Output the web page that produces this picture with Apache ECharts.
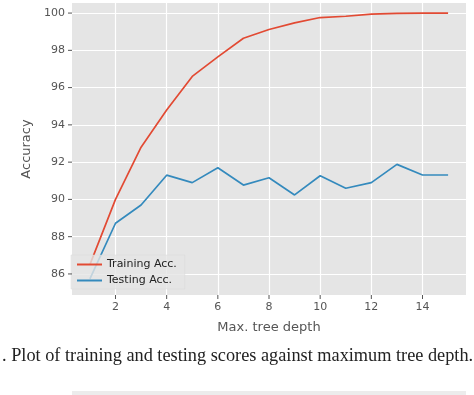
<!DOCTYPE html>
<html><head><meta charset="utf-8">
<script src="https://cdn.jsdelivr.net/npm/echarts@6/dist/echarts.min.js"></script>
<style>html,body{margin:0;padding:0;background:#fff}#c{width:474px;height:395px}</style>
</head><body><div id="c"></div>
<script>
const depths = [1,2,3,4,5,6,7,8,9,10,11,12,13,14,15];
const trainingAcc = [86.5,90.0,92.8,94.8,96.6,97.65,98.65,99.12,99.47,99.76,99.83,99.94,99.98,100.0,100.0];
const testingAcc = [85.73,88.72,89.7,91.3,90.9,91.7,90.77,91.16,90.24,91.27,90.6,90.9,91.88,91.31,91.31];
const xTicks = [2,4,6,8,10,12,14];
const yTicks = [86,88,90,92,94,96,98,100];
const seriesNames = ['Training Acc.','Testing Acc.'];
const caption = '. Plot of training and testing scores against maximum tree depth.';
const xMin = 0.3, xMax = 15.7, yMin = 84.87, yMax = 100.54;

const chart = echarts.init(document.getElementById('c'));
function tickSeries(data, horizontal) {
  return {
    type:'custom', coordinateSystem:'cartesian2d', silent:true, clip:false, z:5,
    data:data,
    renderItem:function(params, api){
      const p = api.coord([api.value(0), api.value(1)]);
      const shape = horizontal ? {x1:p[0]-4, y1:p[1], x2:p[0], y2:p[1]} : {x1:p[0], y1:p[1], x2:p[0], y2:p[1]+4};
      return {type:'line', shape:shape, style:{stroke:'#555', lineWidth:1}};
    }
  };
}
const hiddenTick = {show:true, length:0, lineStyle:{color:'rgba(0,0,0,0)'}};
chart.setOption({
  animation:false,
  backgroundColor:'#fff',
  grid:{left:72, top:3, right:8, bottom:100, show:true, backgroundColor:'#E5E5E5', borderWidth:0},
  legend:{
    left:71, top:255, orient:'vertical', icon:'rect', itemWidth:25, itemHeight:2, itemGap:5,
    backgroundColor:'rgba(229,229,229,0.8)', borderColor:'#d8d8d8', borderWidth:0.5, padding:[4,8,3,6],
    textStyle:{fontFamily:'DejaVu Sans', fontSize:11, color:'#222'},
    data:seriesNames
  },
  xAxis:{
    type:'value', min:xMin, max:xMax,
    name:'Max. tree depth', nameLocation:'middle', nameGap:26,
    nameTextStyle:{fontFamily:'DejaVu Sans', fontSize:13, color:'#555'},
    axisLine:{show:false},
    axisTick:Object.assign({customValues:xTicks}, hiddenTick),
    axisLabel:{customValues:xTicks, fontFamily:'DejaVu Sans', fontSize:11, color:'#555', margin:7},
    splitLine:{show:true, lineStyle:{color:'#fff', width:1.2}}
  },
  yAxis:{
    type:'value', min:yMin, max:yMax,
    name:'Accuracy', nameLocation:'middle', nameGap:34, nameRotate:90,
    nameTextStyle:{fontFamily:'DejaVu Sans', fontSize:13, color:'#555'},
    axisLine:{show:false},
    axisTick:Object.assign({customValues:yTicks}, hiddenTick),
    axisLabel:{customValues:yTicks, fontFamily:'DejaVu Sans', fontSize:11, color:'#555', margin:7},
    splitLine:{show:true, lineStyle:{color:'#fff', width:1.2}}
  },
  series:[
    {name:seriesNames[0], type:'line', data:depths.map((d,i)=>[d,trainingAcc[i]]), symbol:'none',
     lineStyle:{color:'#E24A33', width:1.7}, itemStyle:{color:'#E24A33'}},
    {name:seriesNames[1], type:'line', data:depths.map((d,i)=>[d,testingAcc[i]]), symbol:'none',
     lineStyle:{color:'#348ABD', width:1.7}, itemStyle:{color:'#348ABD'}},
    tickSeries(xTicks.map(v=>[v, yMin]), false),
    tickSeries(yTicks.map(v=>[xMin, v]), true)
  ],
  graphic:[
    {type:'text', left:2, top:347, style:{text:caption, font:'18.3px "Liberation Serif"', fill:'#222'}},
    {type:'rect', shape:{x:72, y:391, width:394, height:4}, style:{fill:'#ececec'}}
  ]
});
</script></body></html>
